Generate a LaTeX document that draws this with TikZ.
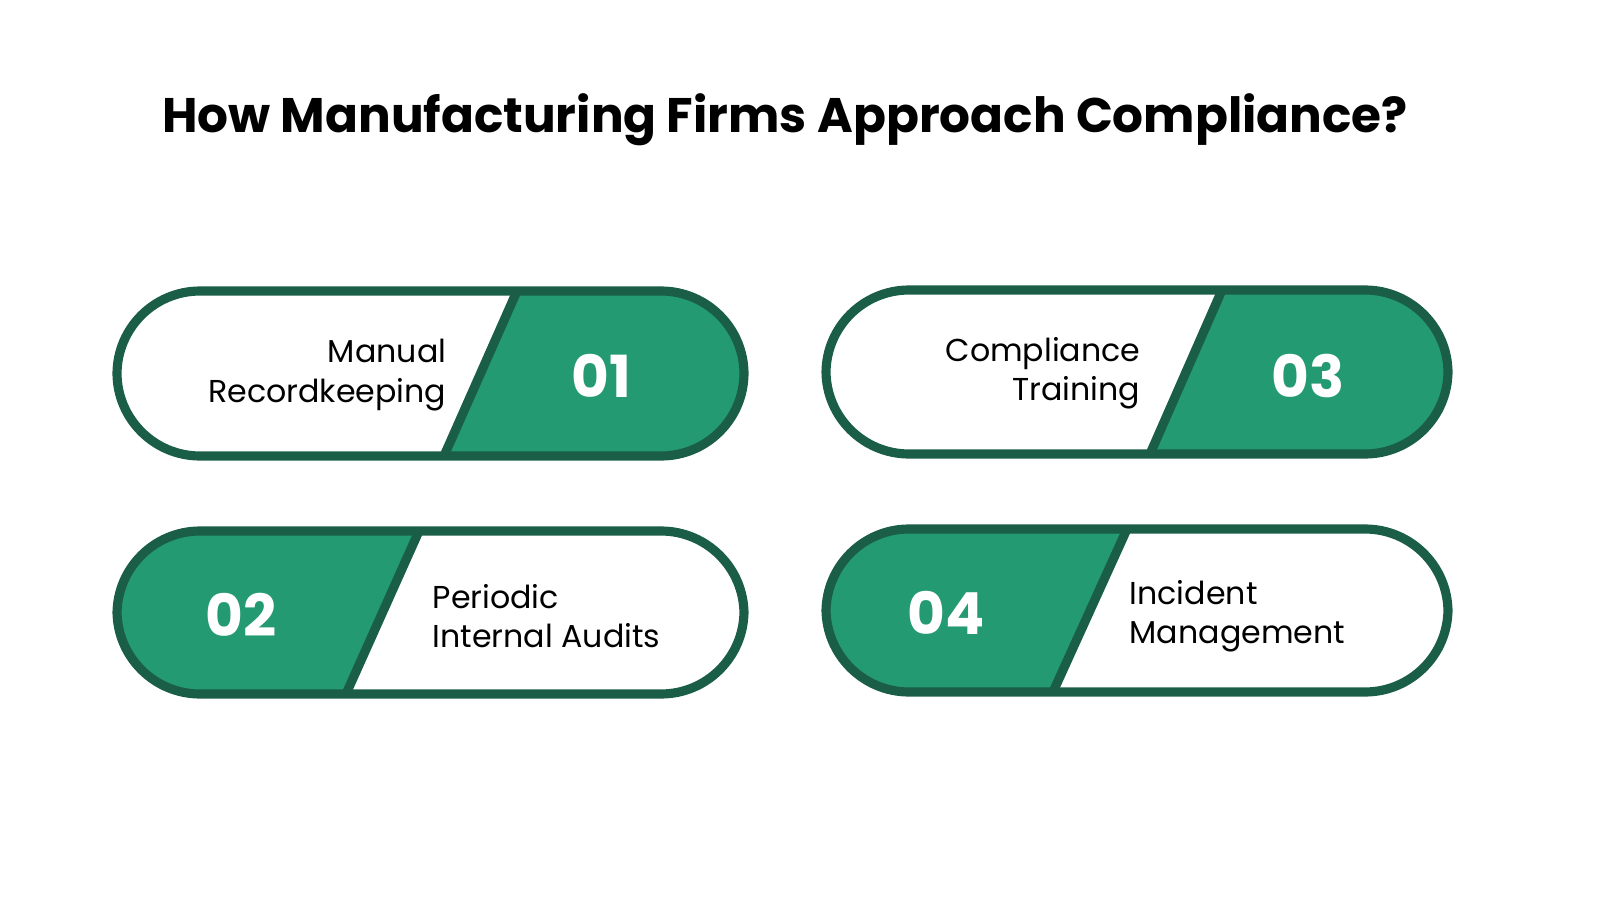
\documentclass[tikz,border=0pt]{standalone}
\usepackage{fontspec}
\setmainfont{Poppins}
\usetikzlibrary{positioning}
\definecolor{pilledge}{HTML}{1B5E47}
\definecolor{pillfill}{HTML}{239A71}
\begin{document}
\begin{tikzpicture}
			[
				x=0.01cm, y=-0.01cm,
				edge/.style={draw=pilledge, line width=2.6pt, rounded corners=0.83cm},
				label/.style={font=\fontsize{9}{11.2}\selectfont, text=black, inner sep=0pt},
				number/.style={font=\fontsize{16.5}{20}\selectfont\bfseries, text=white}
			]
			\useasboundingbox (0,0) rectangle (1600,900);

			% title
			\node[font=\fontsize{13.8}{17}\selectfont\bfseries] (title) at (785,120) {How Manufacturing Firms Approach Compliance?};

			% pills: left, top, right, bottom, divider top, divider bottom, green side
			\foreach \l/\t/\r/\b/\dt/\db/\side in {117/291/744/456/517/444/r, 826/290/1448/454/1222/1150/r, 117/531/744/694/419/346/l, 826/529/1448/692/1127/1053/l}
			{
				\begin{scope}
					\clip[rounded corners=0.83cm] (\l,\t) rectangle (\r,\b);
					\if\side r
						\fill[pillfill] (\dt,\t) -- (\r,\t) -- (\r,\b) -- (\db,\b) -- cycle;
					\else
						\fill[pillfill] (\l,\t) -- (\dt,\t) -- (\db,\b) -- (\l,\b) -- cycle;
					\fi
				\end{scope}
				\draw[pilledge, line width=2.6pt] (\dt,\t) -- (\db,\b);
				\draw[edge] (\l,\t) rectangle (\r,\b);
			}

			% numbers
			\node[number] (n1) at (601,376) {01};
			\node[number] (n3) at (1308,376) {03};
			\node[number] (n2) at (241,615) {02};
			\node[number] (n4) at (946,613) {04};

			% labels
			\node[label, align=right, anchor=east] (t1) at (447,375) {Manual\\Recordkeeping};
			\node[label, align=right, anchor=east] (t3) at (1141,373) {Compliance\\Training};
			\node[label, align=left, anchor=west] (t2) at (432,616) {Periodic\\Internal Audits};
			\node[label, align=left, anchor=west] (t4) at (1129,616) {Incident\\Management};

		\end{tikzpicture}
\end{document}
